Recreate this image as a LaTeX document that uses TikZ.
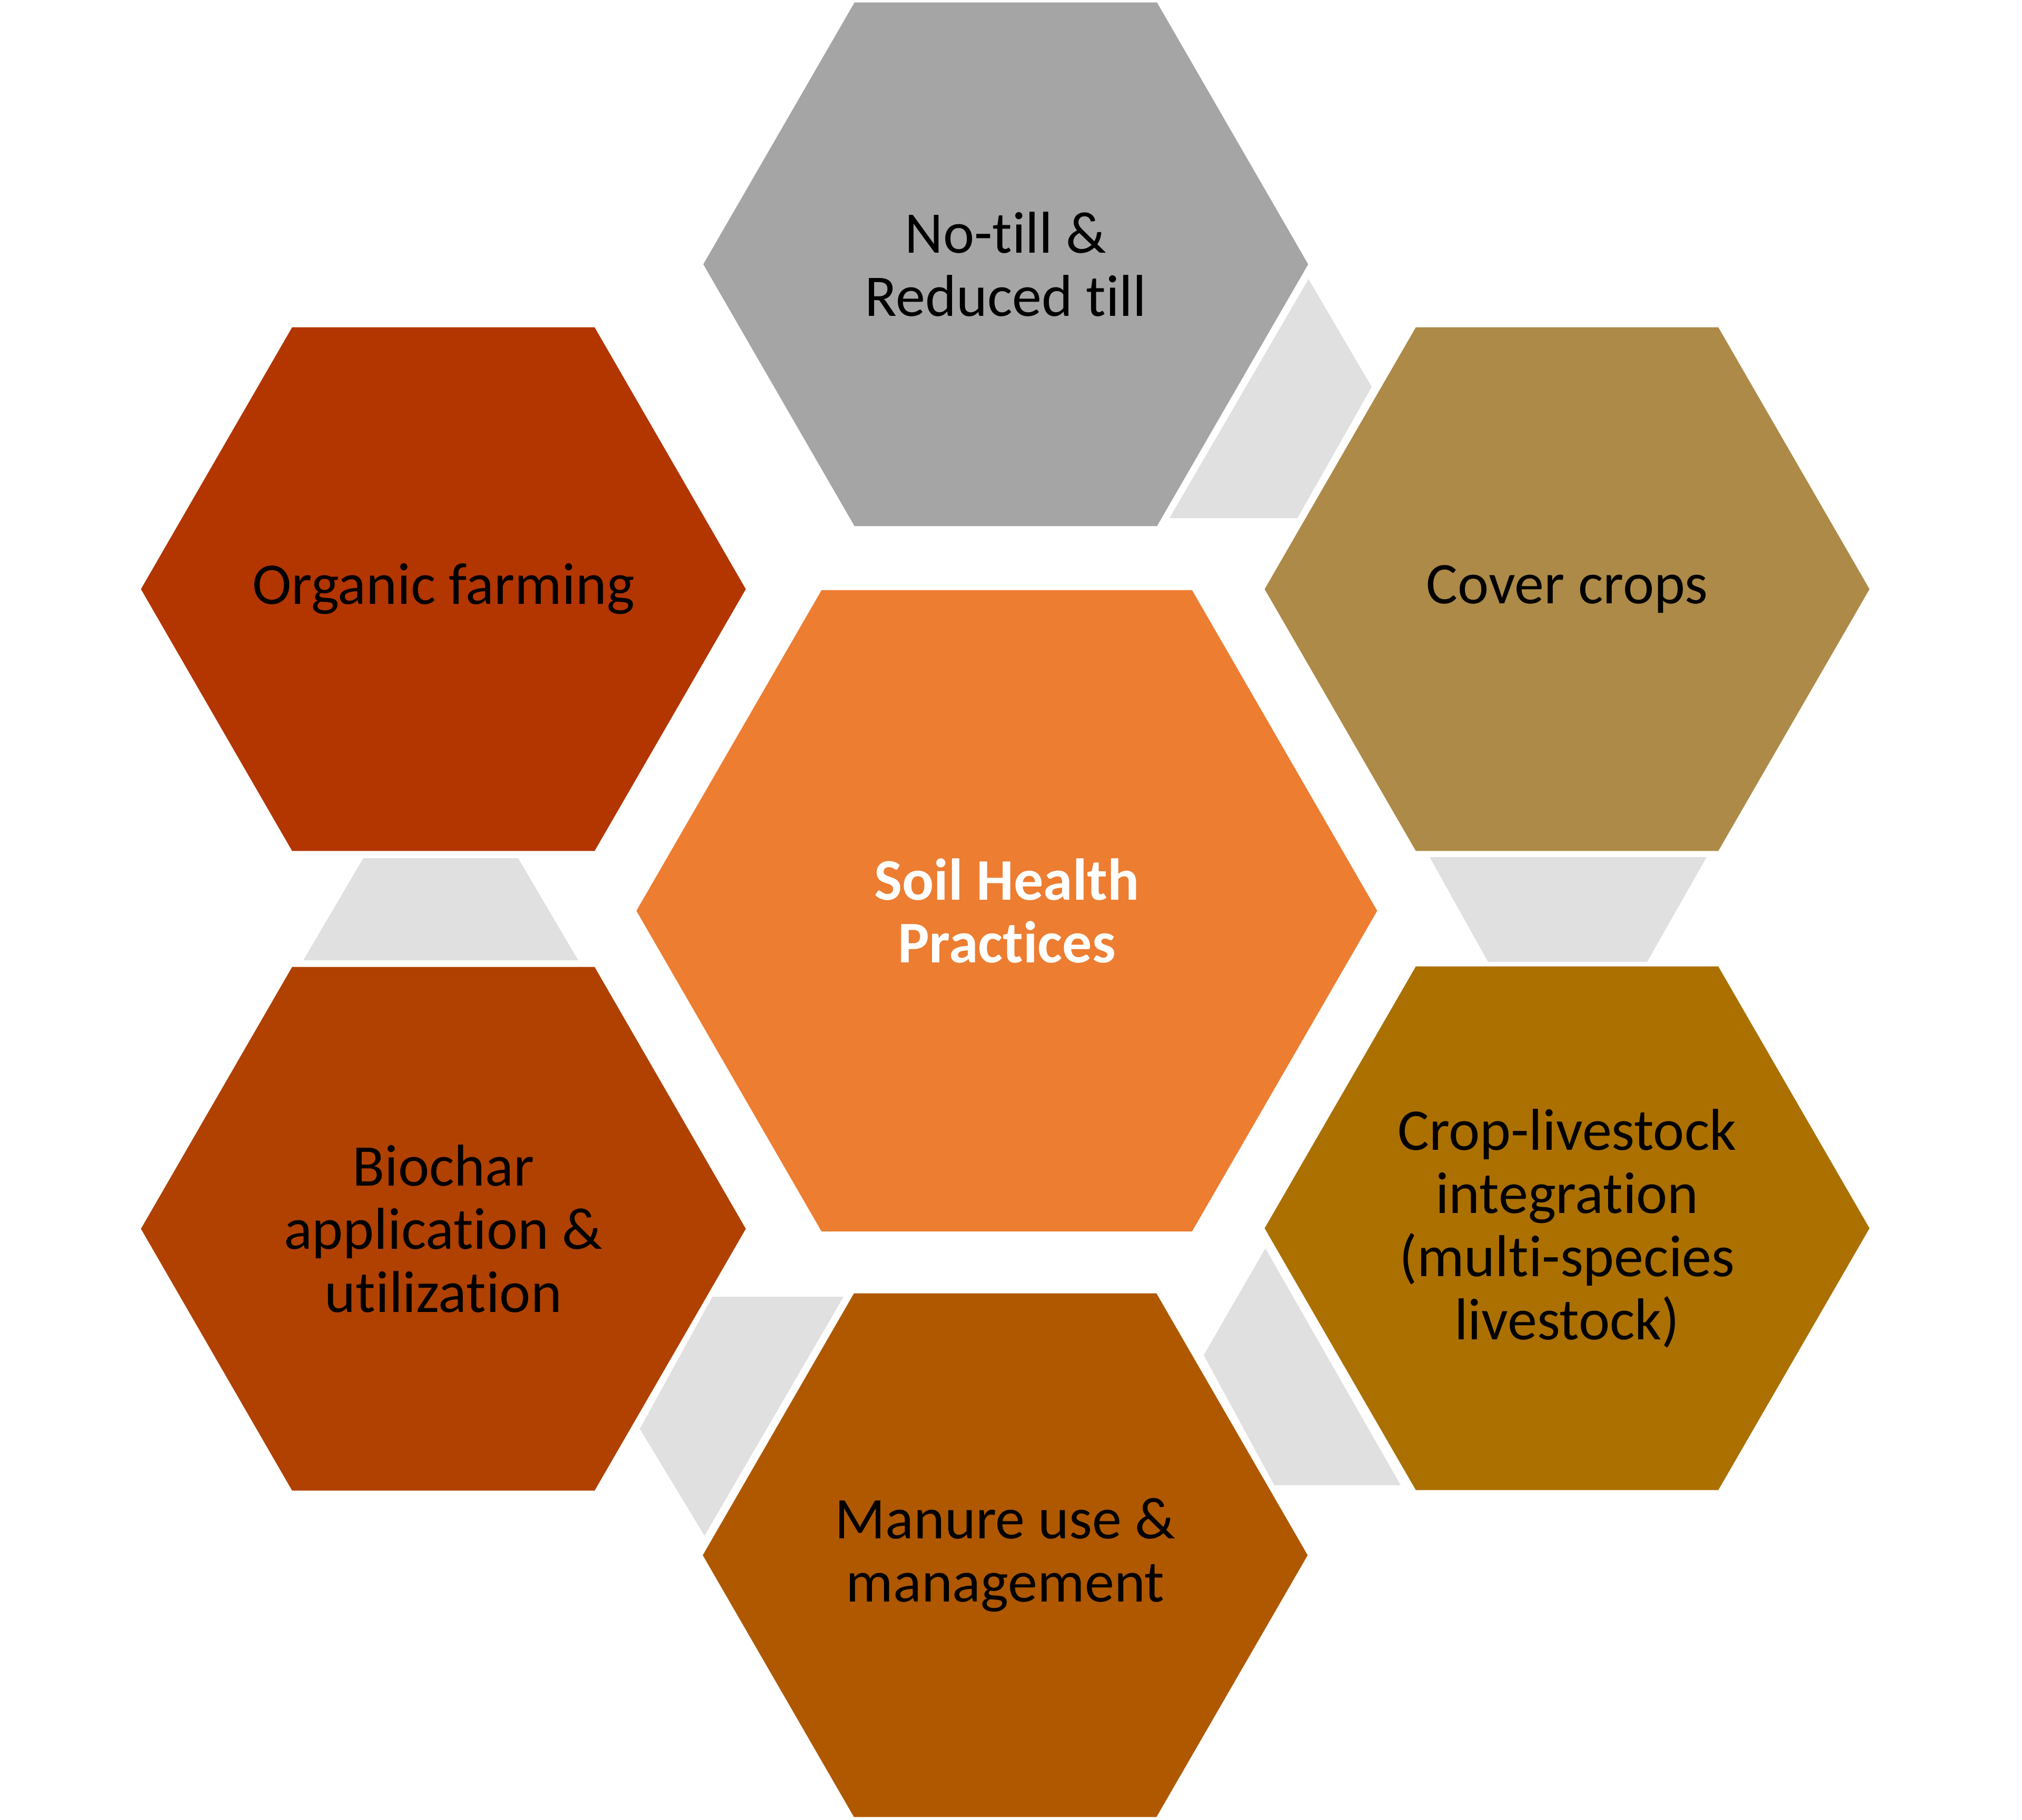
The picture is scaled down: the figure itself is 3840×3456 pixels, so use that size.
\documentclass[tikz,border=0pt]{standalone}
\usepackage{fontspec}
\setmainfont{Carlito}[Ligatures={NoCommon,NoRare,NoDiscretionary,NoContextual}]
\usetikzlibrary{shapes.geometric}
\definecolor{cNoTill}{RGB}{165,165,165}
\definecolor{cCover}{RGB}{173,138,71}
\definecolor{cCropLive}{RGB}{171,112,0}
\definecolor{cManure}{RGB}{175,88,0}
\definecolor{cBiochar}{RGB}{176,65,0}
\definecolor{cOrganic}{RGB}{179,53,0}
\definecolor{cCenter}{RGB}{237,125,49}
\definecolor{cConn}{RGB}{224,224,224}
\begin{document}
\begin{tikzpicture}[x=0.01cm,y=-0.01cm,
  hexa/.style={regular polygon, regular polygon sides=6, minimum size=11.48cm,
    inner sep=0pt, outer sep=0pt},
  hexbig/.style={hexa, minimum size=14.06cm},
  lbl/.style={align=center, inner sep=0pt, font=\fontsize{31.9}{34.1}\selectfont, text=black},
  lblbig/.style={lbl, font=\fontsize{31.9}{34.1}\selectfont\bfseries, text=white},
  conn/.style={fill=cConn}]
\useasboundingbox (0,0) rectangle (3840,3456);
% connector bands
\fill[conn] (2485,530) -- (2605,735) -- (2464,984) -- (2221,984) -- cycle;
\fill[conn] (2715,1628) -- (3241,1628) -- (3128,1827) -- (2826,1827) -- cycle;
\fill[conn] (2403,2371) -- (2286,2574) -- (2420,2821) -- (2660,2821) -- cycle;
\fill[conn] (1353,2463) -- (1602,2463) -- (1338,2917) -- (1215,2714) -- cycle;
\fill[conn] (690,1630) -- (984,1630) -- (1098,1824) -- (576,1824) -- cycle;
% hexagons
\node[hexa, fill=cNoTill] (notill) at (1910,502) {};
\node[hexa, fill=cOrganic] (organic) at (842,1119) {};
\node[hexa, fill=cCover] (cover) at (2976,1119) {};
\node[hexa, fill=cBiochar] (biochar) at (842,2334) {};
\node[hexa, fill=cCropLive] (croplive) at (2976,2333) {};
\node[hexa, fill=cManure] (manure) at (1909,2954) {};
\node[hexbig, fill=cCenter] (soil) at (1912,1730) {};
% labels
\node[lbl] (notillT) at (notill.center) {No-till \&\\Reduced till};
\node[lbl] (organicT) at (organic.center) {Organic farming};
\node[lbl] (coverT) at (cover.center) {Cover crops};
\node[lbl] (biocharT) at (biochar.center) {Biochar\\application \&\\utilization};
\node[lbl] (cropliveT) at (croplive.center) {Crop-livestock\\integration\\(multi-species\\livestock)};
\node[lbl] (manureT) at (manure.center) {Manure use \&\\management};
\node[lblbig] (soilT) at (soil.center) {Soil Health\\Practices};
\end{tikzpicture}
\end{document}
